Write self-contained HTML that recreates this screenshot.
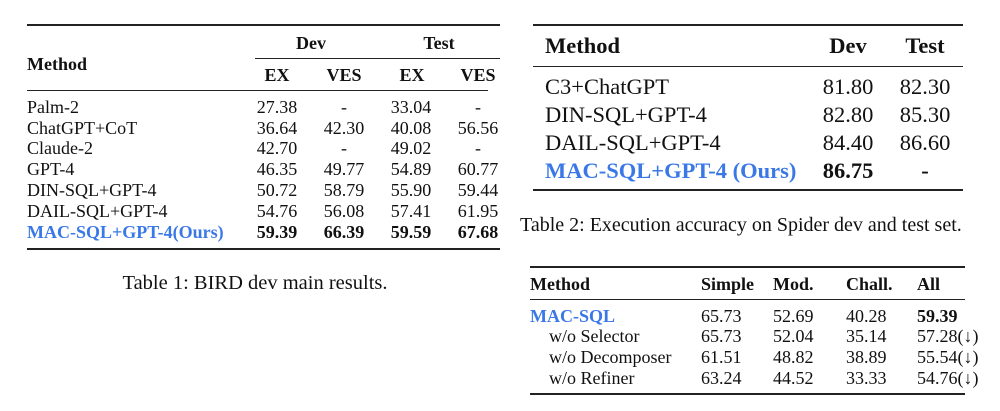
<!DOCTYPE html>
<html><head><meta charset="utf-8"><style>
body{margin:0;width:1000px;height:411px;background:#fff;position:relative;font-family:"Liberation Serif",serif;color:#111;overflow:hidden}
.t{position:absolute;white-space:nowrap;line-height:1;transform:translateY(-50%)}
.c{transform:translate(-50%,-50%)}
.b{font-weight:bold}
.blue{color:#3b78e7}
.h{position:absolute;background:#222}
.a{font-size:18px}
.s2{font-size:22.5px}
.s3{font-size:18px}
</style></head><body>
<!-- Table 1 -->
<div class="h" style="left:27px;top:24px;width:473px;height:2px"></div>
<div class="h" style="left:255px;top:58px;width:245px;height:1px"></div>
<div class="h" style="left:27px;top:90px;width:461px;height:1px"></div>
<div class="h" style="left:27px;top:248px;width:473px;height:2px"></div>
<div class="t a b" style="left:27px;top:64px">Method</div>
<div class="t a b c" style="left:311px;top:43px">Dev</div>
<div class="t a b c" style="left:439px;top:43px">Test</div>
<div class="t a b c" style="left:277px;top:75px">EX</div>
<div class="t a b c" style="left:344px;top:75px">VES</div>
<div class="t a b c" style="left:412px;top:75px">EX</div>
<div class="t a b c" style="left:478px;top:75px">VES</div>
<div id="t1"></div>
<div class="t" style="left:255px;top:283px;font-size:20.5px;transform:translate(-50%,-50%)">Table 1: BIRD dev main results.</div>
<!-- Table 2 -->
<div class="h" style="left:533px;top:24px;width:430px;height:2px"></div>
<div class="h" style="left:533px;top:66px;width:430px;height:1px"></div>
<div class="h" style="left:533px;top:189px;width:430px;height:2px"></div>
<div class="t s2 b" style="left:545px;top:46px">Method</div>
<div class="t s2 b c" style="left:848px;top:46px">Dev</div>
<div class="t s2 b c" style="left:925px;top:46px">Test</div>
<div class="t s2" style="left:545px;top:87px">C3+ChatGPT</div>
<div class="t s2 c" style="left:848px;top:87px">81.80</div><div class="t s2 c" style="left:925px;top:87px">82.30</div>
<div class="t s2" style="left:545px;top:115px">DIN-SQL+GPT-4</div>
<div class="t s2 c" style="left:848px;top:115px">82.80</div><div class="t s2 c" style="left:925px;top:115px">85.30</div>
<div class="t s2" style="left:545px;top:143px">DAIL-SQL+GPT-4</div>
<div class="t s2 c" style="left:848px;top:143px">84.40</div><div class="t s2 c" style="left:925px;top:143px">86.60</div>
<div class="t s2 b blue" style="left:545px;top:171px">MAC-SQL+GPT-4 (Ours)</div>
<div class="t s2 b c" style="left:848px;top:171px">86.75</div><div class="t s2 b c" style="left:925px;top:171px">-</div>
<div class="t" style="left:520px;top:225px;font-size:20px">Table 2: Execution accuracy on Spider dev and test set.</div>
<!-- Table 3 -->
<div class="h" style="left:530px;top:266px;width:435px;height:2px"></div>
<div class="h" style="left:530px;top:299px;width:435px;height:1px"></div>
<div class="h" style="left:530px;top:393px;width:435px;height:2px"></div>
<div class="t s3 b" style="left:530px;top:284px">Method</div>
<div class="t s3 b" style="left:701px;top:284px">Simple</div>
<div class="t s3 b" style="left:773px;top:284px">Mod.</div>
<div class="t s3 b" style="left:846px;top:284px">Chall.</div>
<div class="t s3 b" style="left:917px;top:284px">All</div>
<div id="t3"></div>
<script>
var d=[["Palm-2","27.38","-","33.04","-"],["ChatGPT+CoT","36.64","42.30","40.08","56.56"],["Claude-2","42.70","-","49.02","-"],["GPT-4","46.35","49.77","54.89","60.77"],["DIN-SQL+GPT-4","50.72","58.79","55.90","59.44"],["DAIL-SQL+GPT-4","54.76","56.08","57.41","61.95"],["MAC-SQL+GPT-4(Ours)","59.39","66.39","59.59","67.68"]];
var ys=[107,128,148,169,190,211,232],cx=[277,344,411,478],h="";
d.forEach(function(r,i){var last=i==6;h+='<div class="t a'+(last?' b blue':'')+'" style="left:27px;top:'+ys[i]+'px">'+r[0]+'</div>';
for(var j=1;j<5;j++)h+='<div class="t a c'+(last?' b':'')+'" style="left:'+cx[j-1]+'px;top:'+ys[i]+'px">'+r[j]+'</div>';});
document.getElementById("t1").outerHTML=h;
var e=[["MAC-SQL","65.73","52.69","40.28","59.39"],["w/o Selector","65.73","52.04","35.14","57.28(↓)"],["w/o Decomposer","61.51","48.82","38.89","55.54(↓)"],["w/o Refiner","63.24","44.52","33.33","54.76(↓)"]];
var y3=[316,336,357,378],x3=[701,773,846,917];h="";
e.forEach(function(r,i){h+='<div class="t s3'+(i==0?' b blue':'')+'" style="left:'+(i==0?530:549)+'px;top:'+y3[i]+'px">'+r[0]+'</div>';
for(var j=1;j<5;j++)h+='<div class="t s3'+(i==0&&j==4?' b':'')+'" style="left:'+x3[j-1]+'px;top:'+y3[i]+'px">'+r[j]+'</div>';});
document.getElementById("t3").outerHTML=h;
</script>
</body></html>
